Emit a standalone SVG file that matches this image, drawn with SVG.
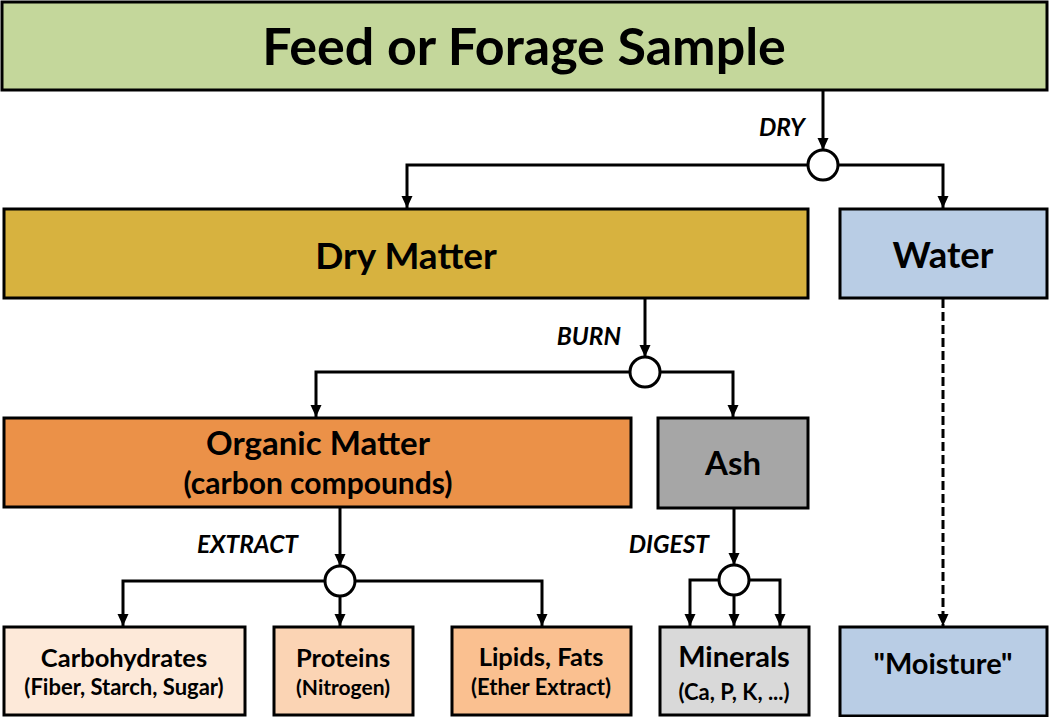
<svg xmlns="http://www.w3.org/2000/svg" width="1050" height="717" viewBox="0 0 1050 717">
<style>
.box{stroke:#000;stroke-width:3}
.t{font-family:Lato,"Open Sans","Liberation Sans",sans-serif;font-weight:700;fill:#000;text-anchor:middle}
.lbl{font-family:Lato,"Open Sans","Liberation Sans",sans-serif;font-weight:700;font-style:italic;fill:#000;text-anchor:end;font-size:24.5px}
.c{fill:none;stroke:#000;stroke-width:3}
.dash{stroke-dasharray:9 4}
.j{fill:#fff;stroke:#000;stroke-width:3}
</style>
<defs>
<marker id="ah" viewBox="0 0 12 12" refX="12" refY="6" markerWidth="12" markerHeight="12" markerUnits="userSpaceOnUse" orient="auto">
<path d="M0,0.5 L12,6 L0,11.5 Z" fill="#000"/>
</marker>
</defs>
<g id="feed">
<rect class="box" x="2" y="2" width="1045" height="88" fill="#C4D79B"/>
<text class="t" x="524" y="65" font-size="52">Feed or Forage Sample</text>
</g>
<g id="drymatter">
<rect class="box" x="4" y="209" width="804" height="89" fill="#D7B23F"/>
<text class="t" x="406" y="269" font-size="37">Dry Matter</text>
</g>
<g id="water">
<rect class="box" x="840" y="209" width="207" height="89" fill="#B9CDE5"/>
<text class="t" x="943" y="268" font-size="36.5">Water</text>
</g>
<g id="organic">
<rect class="box" x="4" y="418" width="627" height="89" fill="#EB9148"/>
<text class="t" x="318" y="455" font-size="33">Organic Matter</text>
<text class="t" x="318" y="494" font-size="30">(carbon compounds)</text>
</g>
<g id="ash">
<rect class="box" x="658" y="418" width="150" height="90" fill="#A6A6A6"/>
<text class="t" x="733" y="475" font-size="33">Ash</text>
</g>
<g id="carbohydrates">
<rect class="box" x="4" y="627" width="241" height="88" fill="#FDE9D9"/>
<text class="t" x="124" y="667" font-size="25.5">Carbohydrates</text>
<text class="t" x="124" y="695" font-size="22">(Fiber, Starch, Sugar)</text>
</g>
<g id="proteins">
<rect class="box" x="274" y="627" width="139" height="88" fill="#FBD4B4"/>
<text class="t" x="343" y="667" font-size="25.5">Proteins</text>
<text class="t" x="343" y="695" font-size="21">(Nitrogen)</text>
</g>
<g id="lipids">
<rect class="box" x="452" y="627" width="179" height="88" fill="#FAC090"/>
<text class="t" x="541" y="666" font-size="25.5">Lipids, Fats</text>
<text class="t" x="541" y="695" font-size="22">(Ether Extract)</text>
</g>
<g id="minerals">
<rect class="box" x="660" y="627" width="149" height="88" fill="#D9D9D9"/>
<text class="t" x="734" y="667" font-size="29">Minerals</text>
<text class="t" x="734" y="700" font-size="22">(Ca, P, K, ...)</text>
</g>
<g id="moisture">
<rect class="box" x="840" y="627" width="207" height="89" fill="#B9CDE5"/>
<text class="t" x="943" y="674" font-size="29">"Moisture"</text>
</g>
<g id="connectors">
<path class="c" d="M823,90 V150" marker-end="url(#ah)"/>
<path class="c" d="M808,165 H407 V208" marker-end="url(#ah)"/>
<path class="c" d="M838,165 H943 V208" marker-end="url(#ah)"/>
<circle class="j" cx="823" cy="165" r="15"/>
<path class="c" d="M645,298 V357" marker-end="url(#ah)"/>
<path class="c" d="M630,372 H316 V417" marker-end="url(#ah)"/>
<path class="c" d="M660,372 H733 V417" marker-end="url(#ah)"/>
<circle class="j" cx="645" cy="372" r="15"/>
<path class="c" d="M340,507 V566" marker-end="url(#ah)"/>
<path class="c" d="M325,581 H123 V626" marker-end="url(#ah)"/>
<path class="c" d="M355,581 H542 V626" marker-end="url(#ah)"/>
<path class="c" d="M340,596 V626" marker-end="url(#ah)"/>
<circle class="j" cx="340" cy="581" r="15"/>
<path class="c" d="M734,508 V565" marker-end="url(#ah)"/>
<path class="c" d="M720,580 H690 V626" marker-end="url(#ah)"/>
<path class="c" d="M748,580 H780 V626" marker-end="url(#ah)"/>
<path class="c" d="M734,595 V626" marker-end="url(#ah)"/>
<circle class="j" cx="734" cy="580" r="15"/>
<path class="c dash" d="M943,299 V626" marker-end="url(#ah)"/>
<text class="lbl" x="805" y="136">DRY</text>
<text class="lbl" x="621" y="345">BURN</text>
<text class="lbl" x="298" y="553">EXTRACT</text>
<text class="lbl" x="709" y="553">DIGEST</text>
</g>
</svg>
